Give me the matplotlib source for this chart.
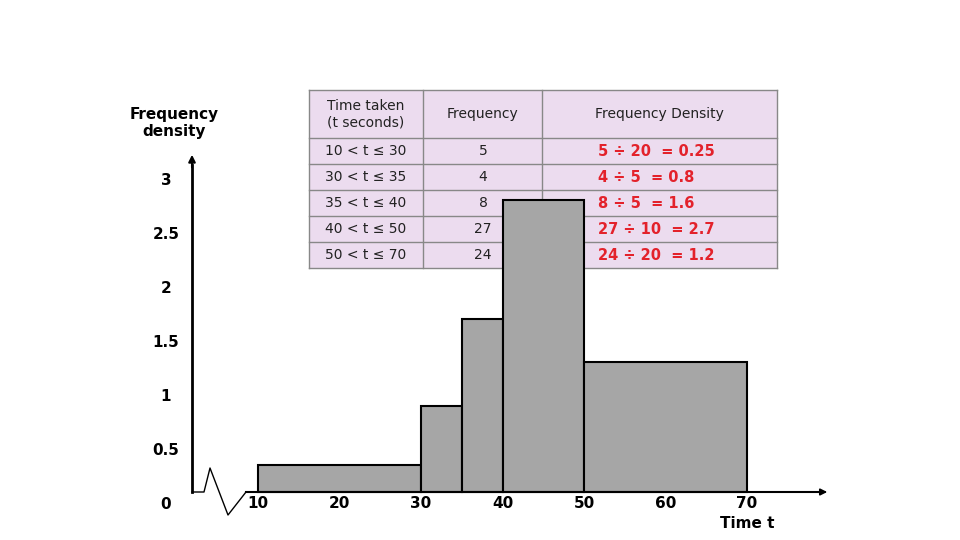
import matplotlib.pyplot as plt
from matplotlib.patches import Rectangle

# histogram data
edges = [10, 30, 35, 40, 50, 70]
density = [0.25, 0.8, 1.6, 2.7, 1.2]
x_ticks = [10, 20, 30, 40, 50, 60, 70]
y_ticks = [0, 0.5, 1, 1.5, 2, 2.5, 3]
y_tick_labels = ["0", "0.5", "1", "1.5", "2", "2.5", "3"]

# table data
tbl_header = ["Time taken\n(t seconds)", "Frequency", "Frequency Density"]
tbl_time = ["10 < t ≤ 30", "30 < t ≤ 35", "35 < t ≤ 40", "40 < t ≤ 50", "50 < t ≤ 70"]
tbl_freq = ["5", "4", "8", "27", "24"]
tbl_fd = ["5 ÷ 20  = 0.25", "4 ÷ 5  = 0.8", "8 ÷ 5  = 1.6", "27 ÷ 10  = 2.7", "24 ÷ 20  = 1.2"]

# pixel mapping helpers (960x540 canvas)
PX0, X0, SX = 258, 10, 8.15
PY0, SY = 492, 108

def px2x(p):
    return X0 + (p - PX0) / SX

def py2y(p):
    return (PY0 - p) / SY

fig = plt.figure(figsize=(9.6, 5.4), dpi=100)
ax = fig.add_axes([0, 0, 1, 1])
ax.set_xlim(px2x(0), px2x(960))
ax.set_ylim(py2y(540), py2y(0))
ax.axis("off")

# table
cols = [309, 423, 542, 777]
rows = [90, 138, 164, 190, 216, 242, 268]
ax.add_patch(Rectangle((px2x(cols[0]), py2y(rows[-1])), px2x(cols[-1]) - px2x(cols[0]),
                       py2y(rows[0]) - py2y(rows[-1]), facecolor="#ecdcef", edgecolor="none", zorder=1))
for c in cols:
    ax.plot([px2x(c)] * 2, [py2y(rows[0]), py2y(rows[-1])], color="#888888", lw=1, zorder=1.5)
for r in rows:
    ax.plot([px2x(cols[0]), px2x(cols[-1])], [py2y(r)] * 2, color="#888888", lw=1, zorder=1.5)
for j, h in enumerate(tbl_header):
    ax.text(px2x((cols[j] + cols[j + 1]) / 2), py2y((rows[0] + rows[1]) / 2), h,
            ha="center", va="center", fontsize=10, color="#222222", zorder=2)
for i in range(len(tbl_time)):
    yc = py2y((rows[i + 1] + rows[i + 2]) / 2)
    ax.text(px2x(366), yc, tbl_time[i], ha="center", va="center", fontsize=10, color="#222222", zorder=2)
    ax.text(px2x(483), yc, tbl_freq[i], ha="center", va="center", fontsize=10, color="#222222", zorder=2)
    ax.text(px2x(598), yc, tbl_fd[i], ha="left", va="center", fontsize=10.5,
            color="#e3222b", fontweight="bold", zorder=2)

# bars
widths = [edges[i + 1] - edges[i] for i in range(len(density))]
ax.bar(edges[:-1], density, width=widths, align="edge", color="#a6a6a6",
       edgecolor="black", linewidth=1.5, zorder=3)

# axes with broken x axis
zx = [192, 204, 210, 228, 246, 258]
zy = [492, 492, 468, 515, 492, 492]
ax.plot([px2x(p) for p in zx], [py2y(p) for p in zy], color="black", lw=1, zorder=4)
ax.plot([px2x(192)] * 2, [py2y(492), py2y(165)], color="black", lw=2, zorder=4)
ax.annotate("", xy=(px2x(192), py2y(152)), xytext=(px2x(192), py2y(170)),
            arrowprops=dict(arrowstyle="-|>", color="black", lw=1.5))
ax.plot([px2x(246), px2x(820)], [py2y(492)] * 2, color="black", lw=1.5, zorder=4)
ax.annotate("", xy=(px2x(830), py2y(492)), xytext=(px2x(815), py2y(492)),
            arrowprops=dict(arrowstyle="-|>", color="black", lw=1.2))

for t in x_ticks:
    ax.text(t, py2y(504), str(t), ha="center", va="center", fontsize=11, fontweight="bold")
for v, lab in zip(y_ticks, y_tick_labels):
    ax.text(px2x(166), v - 0.12, lab, ha="center", va="center", fontsize=11, fontweight="bold")
ax.text(px2x(174), py2y(123), "Frequency\ndensity", ha="center", va="center",
        fontsize=11, fontweight="bold", linespacing=1.1)
ax.text(px2x(747), py2y(523), "Time t", ha="center", va="center", fontsize=11, fontweight="bold")

fig.savefig("out.png", dpi=100)
